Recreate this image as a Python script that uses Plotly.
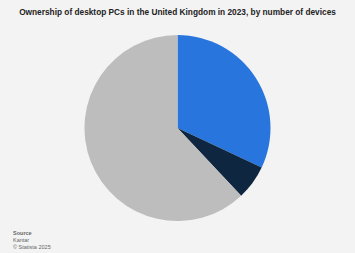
import plotly.graph_objects as go

labels = ["One", "Two or more", "None"]
values = [32, 6, 62]
colors = ["#2876dd", "#0f2640", "#bdbdbd"]

fig = go.Figure(go.Pie(
    labels=labels, values=values, sort=False, direction="clockwise", rotation=0,
    marker=dict(colors=colors, line=dict(width=0)),
    textinfo="none", showlegend=False, hole=0,
))
plot_h = 253 - 35 - 32
fig.update_layout(
    width=355, height=253,
    paper_bgcolor="#f3f3f3", plot_bgcolor="#f3f3f3",
    margin=dict(l=0, r=0, t=35, b=32),
    title=dict(text="<b>Ownership of desktop PCs in the United Kingdom in 2023, by number of devices</b>",
               x=0.5, xanchor="center", y=1 - 12/253, yanchor="middle",
               font=dict(family="Liberation Sans, Arial", size=8.3, color="#222")),
    annotations=[dict(text="<b>Source</b><br>Kantar<br>© Statista 2025", x=11/355, y=-(228-221)/plot_h,
                      xref="paper", yref="paper", xanchor="left", yanchor="top",
                      showarrow=False, align="left",
                      font=dict(family="Liberation Sans, Arial", size=5.5, color="#666"))],
)
fig.write_html("out.html")
